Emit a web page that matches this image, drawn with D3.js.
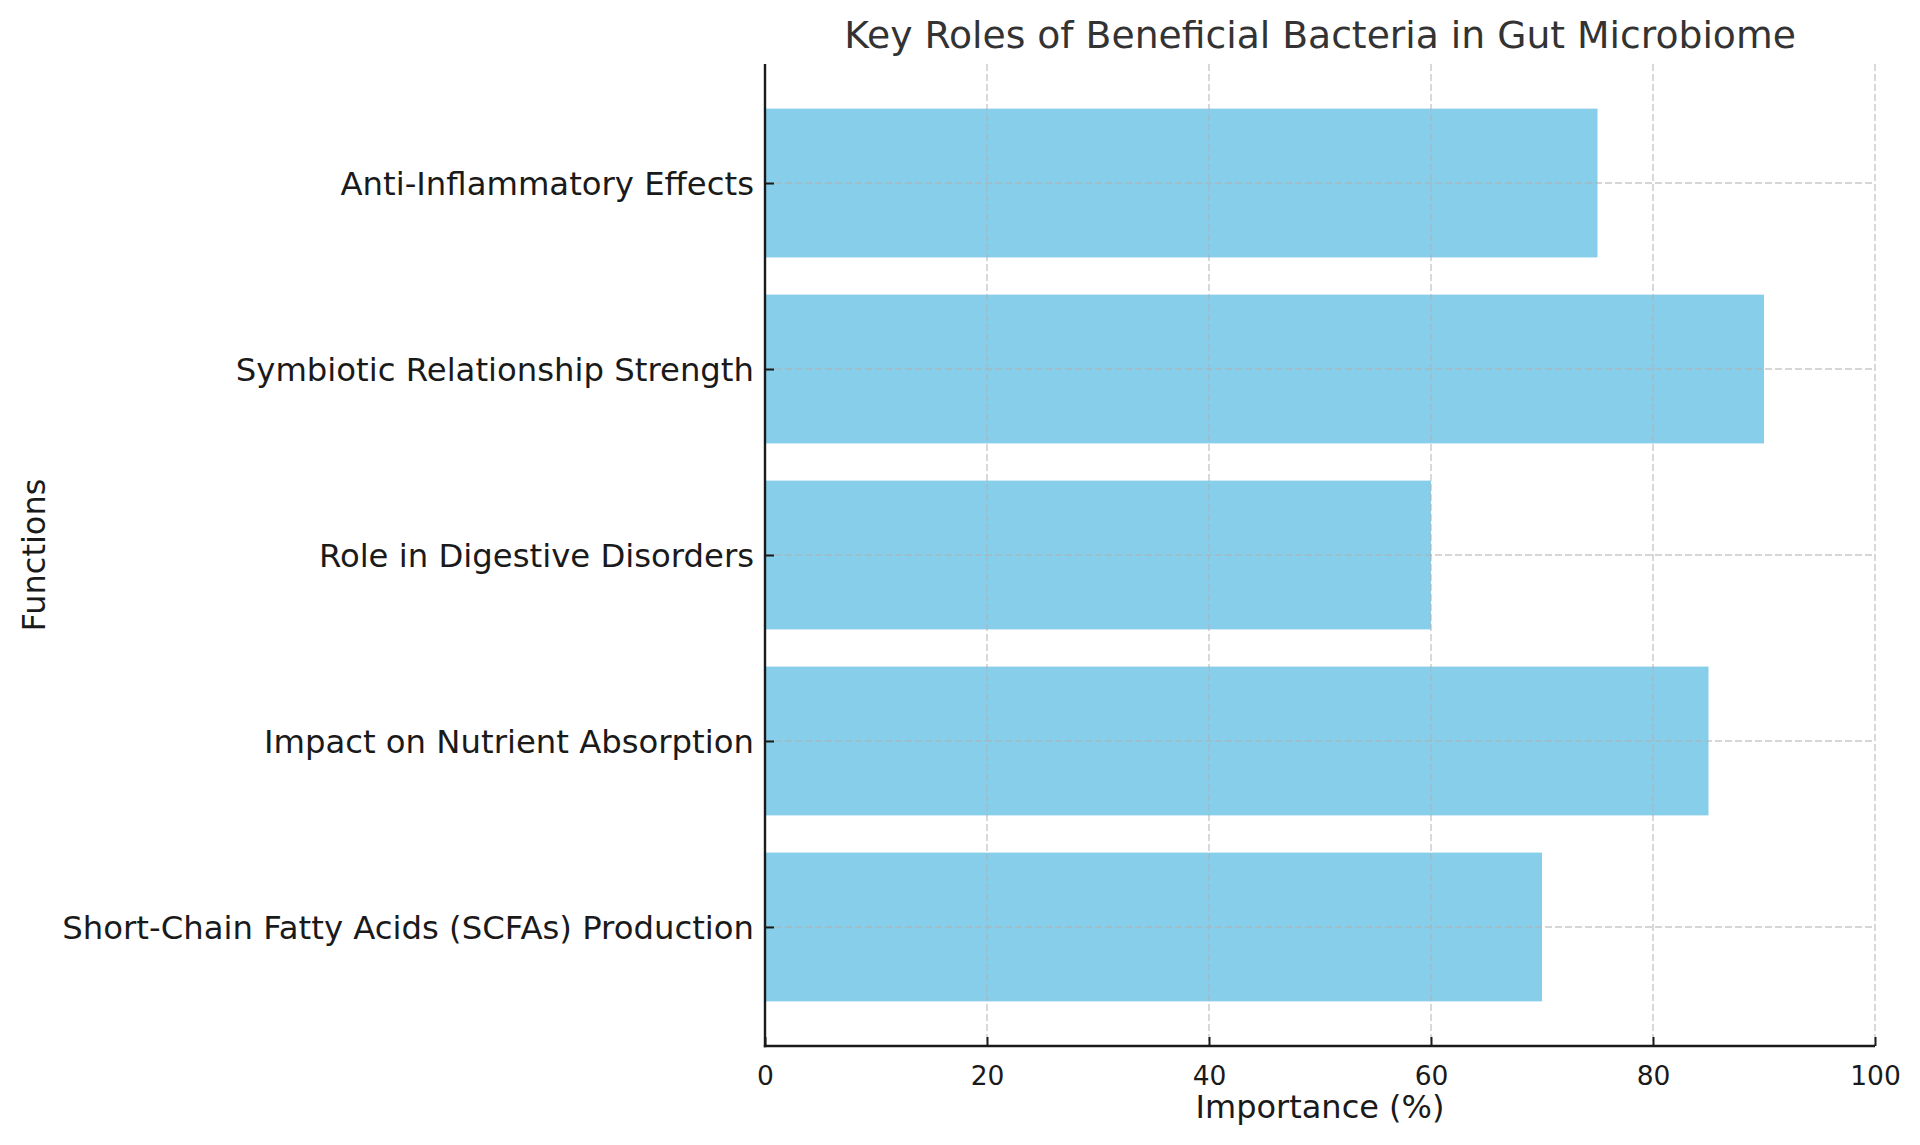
<!DOCTYPE html>
<html>
<head>
<meta charset="utf-8">
<script src="https://cdn.jsdelivr.net/npm/d3@7"></script>
<style>
  body { margin: 0; background: #fff; }
  svg { display: block; font-family: "DejaVu Sans", sans-serif; }
</style>
</head>
<body>
<svg></svg>
<script>
// data, bottom to top as in the picture
let categories = [
  "Short-Chain Fatty Acids (SCFAs) Production",
  "Impact on Nutrient Absorption",
  "Role in Digestive Disorders",
  "Symbiotic Relationship Strength",
  "Anti-Inflammatory Effects"
]
let values = [70, 85, 60, 90, 75]
let xTicks = [0, 20, 40, 60, 80, 100]

let width = 1920
let height = 1145
let padLeft = 765, padRight = 1875, padTop = 64, padBottom = 1046

let svg = d3.select('svg').attr('width', width).attr('height', height)

let xScale = d3.scaleLinear().domain([0, 100]).range([padLeft, padRight])
// matplotlib style: bars 0.8 wide on integer slots, 5% margins
let yScale = d3.scaleLinear().domain([-0.64, categories.length - 1 + 0.64]).range([padBottom, padTop])
let barH = yScale(0) - yScale(0.8)

// bars
svg.selectAll('rect.bar')
  .data(values)
  .enter()
  .append('rect')
  .attr('class', 'bar')
  .attr('x', xScale(0))
  .attr('y', (d, i) => yScale(i + 0.4))
  .attr('width', d => xScale(d) - xScale(0))
  .attr('height', barH)
  .attr('fill', '#87ceeb')

// grid on top of bars
let grid = svg.append('g')
grid.selectAll('line.vg')
  .data(xTicks)
  .enter()
  .append('line')
  .attr('class', 'vg')
  .attr('x1', d => xScale(d)).attr('x2', d => xScale(d))
  .attr('y1', padTop).attr('y2', padBottom)
grid.selectAll('line.hg')
  .data(categories)
  .enter()
  .append('line')
  .attr('class', 'hg')
  .attr('x1', padLeft).attr('x2', padRight)
  .attr('y1', (d, i) => yScale(i)).attr('y2', (d, i) => yScale(i))
grid.selectAll('line')
  .attr('stroke', '#b0b0b0')
  .attr('stroke-opacity', 0.7)
  .attr('stroke-width', 1.4)
  .attr('stroke-dasharray', '7,3')

// axes
let xAxis = d3.axisBottom(xScale).tickValues(xTicks).tickSizeInner(-9).tickSizeOuter(0).tickPadding(20)
svg.append('g').attr('id', 'x-axis').attr('transform', 'translate(0,' + padBottom + ')').call(xAxis)

let yAxis = d3.axisLeft(yScale)
  .tickValues(d3.range(categories.length))
  .tickFormat(i => categories[i])
  .tickSizeInner(-9).tickSizeOuter(0).tickPadding(11)
svg.append('g').attr('id', 'y-axis').attr('transform', 'translate(' + padLeft + ',0)').call(yAxis)

svg.selectAll('#x-axis, #y-axis').attr('font-family', '"DejaVu Sans", sans-serif')
svg.selectAll('#x-axis .domain, #y-axis .domain')
  .attr('stroke', '#1a1a1a').attr('stroke-width', 2.4)
svg.select('#x-axis .domain').attr('d', 'M' + (padLeft - 1.2) + ',0H' + padRight)
svg.select('#y-axis .domain').attr('d', 'M0,' + padTop + 'V' + (padBottom + 1.2))
svg.selectAll('.tick line').attr('stroke', '#1a1a1a').attr('stroke-width', 2)
svg.selectAll('#x-axis .tick text').attr('font-size', 26.5).attr('fill', '#1a1a1a')
svg.selectAll('#y-axis .tick text').attr('font-size', 32.3).attr('fill', '#1a1a1a').attr('dy', '0.35em')

// title and labels
svg.append('text')
  .attr('x', (padLeft + padRight) / 2).attr('y', 35)
  .attr('text-anchor', 'middle').attr('dy', '0.35em')
  .attr('font-size', 37.7).attr('fill', '#333')
  .text('Key Roles of Beneficial Bacteria in Gut Microbiome')

svg.append('text')
  .attr('x', (padLeft + padRight) / 2).attr('y', 1107)
  .attr('text-anchor', 'middle').attr('dy', '0.35em')
  .attr('font-size', 32).attr('fill', '#1a1a1a')
  .text('Importance (%)')

svg.append('text')
  .attr('transform', 'translate(34,' + ((padTop + padBottom) / 2) + ') rotate(-90)')
  .attr('text-anchor', 'middle').attr('dy', '0.35em')
  .attr('font-size', 32).attr('fill', '#1a1a1a')
  .text('Functions')
</script>
</body>
</html>
